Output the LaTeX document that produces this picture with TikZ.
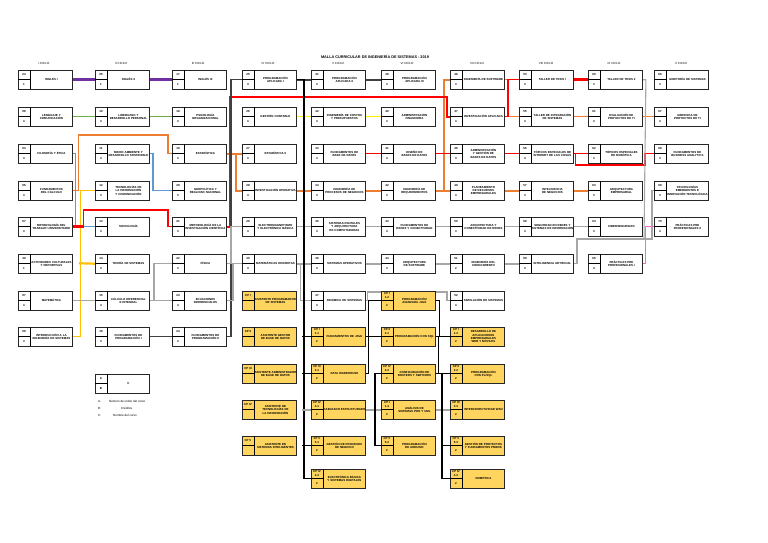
\documentclass[tikz,border=0pt]{standalone}
\usepackage{fontspec}
\setmainfont{Liberation Sans}
\usetikzlibrary{calc,backgrounds}
\hyphenpenalty=10000
\exhyphenpenalty=10000
\definecolor{cyel}{RGB}{255,212,95}
\definecolor{cpur}{RGB}{112,48,160}
\definecolor{cgrn}{RGB}{112,173,71}
\definecolor{cora}{RGB}{237,125,49}
\definecolor{cblu}{RGB}{91,155,213}
\definecolor{cgld}{RGB}{255,192,0}
\definecolor{cdgr}{RGB}{64,64,64}
\definecolor{cgry}{RGB}{166,166,166}
\definecolor{cpnk}{RGB}{255,102,204}
\tikzset{x=1pt,y=1pt,
 cbox/.style={draw=black!85,line width=0.9pt,minimum width=54pt,minimum height=18.5pt,inner sep=0,anchor=north west},
 tx/.style={font=\fontsize{2.9}{3.3}\selectfont\bfseries,inner sep=0,align=center},
 hd/.style={font=\fontsize{3}{3.5}\selectfont,inner sep=0},
 cn/.style={line width=1.1pt},
}
\newcommand\crs[7]{%
 \node[cbox,fill=#7] (#1) at (#2,-#3) {};
 \draw[line width=0.6pt] ($(#1.north west)+(12,0)$) -- ($(#1.south west)+(12,0)$);
 \draw[line width=0.6pt] (#1.west) -- ($(#1.west)+(12,0)$);
 \node[tx] at ($(#1.north west)+(6,-4.6)$) {#4};
 \node[tx] at ($(#1.south west)+(6,4.6)$) {#5};
 \node[tx,text width=42pt] at ($(#1.center)+(6,0)$) {#6};}
\begin{document}
\begin{tikzpicture}
\useasboundingbox (0,0) rectangle (768,-543);
\node[tx,font=\fontsize{3.8}{4}\selectfont\bfseries] (title) at (375,-57) {MALLA CURRICULAR DE INGENIERÍA DE SISTEMAS - 2019};
\foreach \x/\t in {44/I CICLO,121/II CICLO,198/III CICLO,268/IV CICLO,338/V CICLO,407/VI CICLO,477/VII CICLO,546/VIII CICLO,614/IX CICLO,681/X CICLO}
 \node[hd] at (\x,-63) {\t};
% column I
\crs{c1-1}{18}{70}{24}{1}{INGLÉS I}{white}
\crs{c1-2}{18}{107}{08}{3}{LENGUAJE Y COMUNICACIÓN}{white}
\crs{c1-3}{18}{144}{03}{3}{FILOSOFÍA Y ÉTICA}{white}
\crs{c1-4}{18}{181}{06}{3}{FUNDAMENTOS DEL CÁLCULO}{white}
\crs{c1-5}{18}{217}{07}{3}{METODOLOGÍA DEL TRABAJO UNIVERSITARIO}{white}
\crs{c1-6}{18}{254}{30}{1}{ACTIVIDADES CULTURALES Y DEPORTIVAS}{white}
\crs{c1-7}{18}{291}{07}{3}{MATEMÁTICA}{white}
\crs{c1-8}{18}{327}{09}{3}{INTRODUCCIÓN A LA INGENIERÍA DE SISTEMAS}{white}
% column II
\crs{c2-1}{95}{70}{25}{1}{INGLÉS II}{white}
\crs{c2-2}{95}{107}{10}{3}{LIDERAZGO Y DESARROLLO PERSONAL}{white}
\crs{c2-3}{95}{144}{11}{3}{MEDIO AMBIENTE Y DESARROLLO SOSTENIBLE}{white}
\crs{c2-4}{95}{181}{12}{3}{TECNOLOGÍAS DE LA INFORMACIÓN Y COMUNICACIÓN}{white}
\crs{c2-5}{95}{217}{13}{3}{SOCIOLOGÍA}{white}
\crs{c2-6}{95}{254}{14}{3}{TEORÍA DE SISTEMAS}{white}
\crs{c2-7}{95}{291}{15}{4}{CÁLCULO DIFERENCIAL E INTEGRAL}{white}
\crs{c2-8}{95}{327}{16}{3}{FUNDAMENTOS DE PROGRAMACIÓN I}{white}
\crs{leg}{95}{374}{A}{B}{C}{white}
\node[hd,anchor=west] (la) at (98,-401) {A:\hspace{8pt}Número de orden del curso};
\node[hd,anchor=west] (lb) at (98,-408) {B:\hspace{20pt}Créditos};
\node[hd,anchor=west] (lc) at (98,-415) {C:\hspace{12pt}Nombre del curso};
% column III
\crs{c3-1}{172}{70}{17}{1}{INGLÉS III}{white}
\crs{c3-2}{172}{107}{18}{3}{PSICOLOGÍA ORGANIZACIONAL}{white}
\crs{c3-3}{172}{144}{19}{3}{ESTADÍSTICA}{white}
\crs{c3-4}{172}{181}{20}{3}{GEOPOLÍTICA Y REALIDAD NACIONAL}{white}
\crs{c3-5}{172}{217}{21}{3}{METODOLOGÍA DE LA INVESTIGACIÓN CIENTÍFICA}{white}
\crs{c3-6}{172}{254}{22}{3}{FÍSICA}{white}
\crs{c3-7}{172}{291}{23}{4}{ECUACIONES DIFERENCIALES}{white}
\crs{c3-8}{172}{327}{24}{3}{FUNDAMENTOS DE PROGRAMACIÓN II}{white}
% column IV
\crs{c4-1}{242}{70}{25}{4}{PROGRAMACIÓN APLICADA I}{white}
\crs{c4-2}{242}{107}{26}{3}{GESTIÓN CONTABLE}{white}
\crs{c4-3}{242}{144}{27}{3}{ESTADÍSTICA II}{white}
\crs{c4-4}{242}{181}{28}{4}{INVESTIGACIÓN OPERATIVA}{white}
\crs{c4-5}{242}{217}{29}{4}{ELECTROMAGNETISMO Y ELECTRÓNICA BÁSICA}{white}
\crs{c4-6}{242}{254}{30}{4}{MATEMÁTICAS DISCRETAS}{white}
\crs{c4-7}{242}{291}{CP I}{}{ASISTENTE PROGRAMADOR DE SISTEMAS}{cyel}
\crs{c4-8}{242}{327}{CP II}{}{ASISTENTE GESTOR DE BASE DE DATOS}{cyel}
\crs{c4-9}{242}{364}{CP III}{}{ASISTENTE ADMINISTRADOR DE BASE DE DATOS}{cyel}
\crs{c4-10}{242}{400}{CP IV}{}{ASISTENTE DE TECNOLOGÍAS DE LA INFORMACIÓN}{cyel}
\crs{c4-11}{242}{436}{CP V}{}{ASISTENTE EN SISTEMAS INTELIGENTES}{cyel}
% column V
\crs{c5-1}{311}{70}{31}{3}{PROGRAMACIÓN APLICADA II}{white}
\crs{c5-2}{311}{107}{32}{3}{INGENIERÍA DE COSTOS Y PRESUPUESTOS}{white}
\crs{c5-3}{311}{144}{33}{3}{FUNDAMENTOS DE BASE DE DATOS}{white}
\crs{c5-4}{311}{181}{34}{3}{INGENIERÍA DE PROCESOS DE NEGOCIOS}{white}
\crs{c5-5}{311}{217}{35}{3}{SISTEMAS DIGITALES Y ARQUITECTURA DE COMPUTADORAS}{white}
\crs{c5-6}{311}{254}{36}{3}{SISTEMAS OPERATIVOS}{white}
\crs{c5-7}{311}{291}{37}{3}{DINÁMICA DE SISTEMAS}{white}
\crs{c5-8}{311}{327}{CP I\\1.1}{2}{FUNDAMENTOS DE JAVA}{cyel}
\crs{c5-9}{311}{364}{CP III\\3.1}{2}{DATA WAREHOUSE}{cyel}
\crs{c5-10}{311}{400}{CP IV\\4.1}{2}{CABLEADO ESTRUCTURADO}{cyel}
\crs{c5-11}{311}{436}{CP V\\5.1}{2}{GESTIÓN DE PROCESOS DE NEGOCIO}{cyel}
\crs{c5-12}{311}{469}{CP IV\\4.4}{2}{ELECTRÓNICA BÁSICA Y SISTEMAS DIGITALES}{cyel}
% column VI
\crs{c6-1}{381}{70}{38}{3}{PROGRAMACIÓN APLICADA III}{white}
\crs{c6-2}{381}{107}{40}{3}{ADMINISTRACIÓN FINANCIERA}{white}
\crs{c6-3}{381}{144}{41}{4}{DISEÑO DE BASES DE DATOS}{white}
\crs{c6-4}{381}{181}{42}{3}{INGENIERÍA DE REQUERIMIENTOS}{white}
\crs{c6-5}{381}{217}{43}{4}{FUNDAMENTOS DE REDES Y CONECTIVIDAD}{white}
\crs{c6-6}{381}{254}{44}{3}{ARQUITECTURA DE SOFTWARE}{white}
\crs{c6-7}{381}{291}{CP I\\1.2}{2}{PROGRAMACIÓN AVANZADA JAVA}{cyel}
\crs{c6-8}{381}{327}{CP II\\2.1}{2}{PROGRAMACIÓN CON SQL}{cyel}
\crs{c6-9}{381}{364}{CP IV\\4.2}{2}{CONFIGURACIÓN DE ROUTERS Y SWITCHES}{cyel}
\crs{c6-10}{381}{400}{CP I\\1.4}{2}{ANÁLISIS DE SISTEMAS POO Y UML}{cyel}
\crs{c6-11}{381}{436}{CP V\\5.2}{2}{PROGRAMACIÓN DE ARDUINO}{cyel}
% column VII
\crs{c7-1}{450}{70}{46}{3}{INGENIERÍA DE SOFTWARE}{white}
\crs{c7-2}{450}{107}{47}{3}{INVESTIGACIÓN APLICADA}{white}
\crs{c7-3}{450}{144}{48}{3}{ADMINISTRACIÓN Y GESTIÓN DE BASES DE DATOS}{white}
\crs{c7-4}{450}{181}{49}{3}{PLANEAMIENTO DE RECURSOS EMPRESARIALES}{white}
\crs{c7-5}{450}{217}{50}{3}{ARQUITECTURA Y CONECTIVIDAD DE REDES}{white}
\crs{c7-6}{450}{254}{51}{2}{INGENIERÍA DEL CONOCIMIENTO}{white}
\crs{c7-7}{450}{291}{52}{3}{SIMULACIÓN DE SISTEMAS}{white}
\crs{c7-8}{450}{327}{CP I\\1.3}{2}{DESARROLLO DE APLICACIONES EMPRESARIALES WEB Y MÓVILES}{cyel}
\crs{c7-9}{450}{364}{CP II\\2.2}{2}{PROGRAMACIÓN CON PL/SQL}{cyel}
\crs{c7-10}{450}{400}{CP III\\3.3}{2}{INTERCONECTIVIDAD WAN}{cyel}
\crs{c7-11}{450}{436}{CP V\\5.3}{2}{GESTIÓN DE PROYECTOS Y FUNDAMENTOS PMBOK}{cyel}
\crs{c7-12}{450}{469}{CP IV\\4.3}{2}{DOMÓTICA}{cyel}
% column VIII
\crs{c8-1}{519}{70}{53}{3}{TALLER DE TESIS I}{white}
\crs{c8-2}{519}{107}{55}{3}{TALLER DE INTEGRACIÓN DE SISTEMAS}{white}
\crs{c8-3}{519}{144}{56}{4}{TÓPICOS ESPECIALES DE INTERNET DE LAS COSAS}{white}
\crs{c8-4}{519}{181}{57}{3}{INTELIGENCIA DE NEGOCIOS}{white}
\crs{c8-5}{519}{217}{58}{3}{SEGURIDAD EN REDES Y SISTEMAS DE INFORMACIÓN}{white}
\crs{c8-6}{519}{254}{59}{3}{INTELIGENCIA ARTIFICIAL}{white}
% column IX
\crs{c9-1}{588}{70}{60}{3}{TALLER DE TESIS 2}{white}
\crs{c9-2}{588}{107}{61}{3}{EVALUACIÓN DE PROYECTOS DE TI}{white}
\crs{c9-3}{588}{144}{62}{3}{TÓPICOS ESPECIALES DE ROBÓTICA}{white}
\crs{c9-4}{588}{181}{63}{3}{ARQUITECTURA EMPRESARIAL}{white}
\crs{c9-5}{588}{217}{64}{3}{CIBERSEGURIDAD}{white}
\crs{c9-6}{588}{254}{65}{4}{PRÁCTICAS PRE PROFESIONALES I}{white}
% column X
\crs{c10-1}{654}{70}{66}{3}{AUDITORÍA DE SISTEMAS}{white}
\crs{c10-2}{654}{107}{67}{4}{GERENCIA DE PROYECTOS DE TI}{white}
\crs{c10-3}{654}{144}{68}{3}{FUNDAMENTOS DE BUSINESS ANALYTICS}{white}
\crs{c10-4}{654}{181}{69}{3}{TECNOLOGÍAS EMERGENTES E INNOVACIÓN TECNOLÓGICA}{white}
\crs{c10-5}{654}{217}{70}{4}{PRÁCTICAS PRE PROFESIONALES II}{white}
% connectors
\begin{pgfonlayer}{background}
\draw[cpur,line width=2.5pt] (c1-1.east) -- (c2-1.west) (c2-1.east) -- (c3-1.west);
\draw[cgrn,cn] (c1-2.east) -- (c2-2.west) (c2-2.east) -- (c3-2.west);
\draw[cora,cn] (c1-4.east) -- ++(6,0) |- (168,-135) |- (c3-3.west);
\draw[cora,line width=1.6pt] (c3-3.east) -- (c4-3.west) (236,-153.25) |- (c4-4.west);
\draw[cora,line width=2pt] (c4-4.east) -- (c5-4.west) (c5-4.east) -- (c6-4.west) (c6-4.east) -- (c7-4.west) (c7-4.east) -- (c8-4.west) (c8-4.east) -- (c9-4.west);
\draw[cora,line width=1.6pt] (c6-4.east) -- ++(8,0) |- (c7-1.west);
\draw[cora,cn] (c7-1.east) -- ++(4,0) |- (c8-2.west) (c8-2.east) -- (c9-2.west) (c9-2.east) -- (c10-2.west);
\draw[cblu,cn] (c1-3.east) -- ++(3,0) |- (c2-5.west);
\draw[cblu,line width=1.5pt] (c2-3.east) -- ++(3,0) |- (c3-4.west);
\draw[cgld,cn] (c1-8.east) -- ++(8,0) |- (c2-4.west);
\draw[cgld,line width=2.2pt] (79,-263.25) -- (c2-6.west);
\draw[red,line width=2.5pt] (c1-5.east) -- ++(11,0);
\draw[red,cn] (c1-5.east) -- ++(11,0) |- (168,-210) |- (c3-5.west);
\draw[red,line width=2.2pt] (c3-5.east) -- ++(3,0) |- (447,-97) |- (c7-2.west);
\draw[red,line width=1.5pt] (c7-2.east) -- ++(3,0) |- (c8-1.west);
\draw[red,line width=2.5pt] (c8-1.east) -- (c9-1.west);
\draw[red,cn] (c5-3.east) -- (c6-3.west) (c6-3.east) -- (c7-3.west) (c7-3.east) -- (c8-3.west) (c8-3.east) -- (c9-3.west);
\draw[red,cn] (c8-3.east) -- ++(2,0) |- (645,-165) |- (c10-3.west);
\draw[yellow,cn] (c4-2.east) -- (c5-2.west) (c5-2.east) -- (c6-2.west);
\draw[cdgr,line width=2pt] (c4-1.east) -- (c5-1.west) (c5-1.east) -- (c6-1.west);
\draw[cdgr,line width=1.5pt] (c2-8.east) -- (c3-8.west) (c3-8.east) -- ++(4,0) |- (c4-1.west);
\draw[cgry,line width=1.5pt] (c1-7.east) -- (c2-7.west) (c2-7.east) -- (c3-7.west) (c2-7.east) -- ++(4,0) |- (c3-6.west);
\draw[cgry,line width=1.5pt] (c3-6.east) -- ++(4,0) |- (c4-5.west) (c3-7.east) -- ++(6,0) |- (c4-6.west);
\draw[cgry,cn] (c4-5.east) -- (c5-5.west) (c5-5.east) -- (c6-5.west) (c6-5.east) -- (c7-5.west) (c7-5.east) -- (c8-5.west) (c8-5.east) -- (c9-5.west);
\draw[cgry,line width=2.2pt] (c4-6.east) -- (c5-6.west) (c5-6.east) -- (c6-6.west) (c6-6.east) -- (c7-6.west) (c7-6.east) -- (c8-6.west);
\draw[cgry,cn] (c4-6.east) -- ++(4,0) |- (c5-7.west);
\draw[cgry,cn] (c5-7.east) -- ++(2,0) |- (447,-292) |- (c7-7.west);
\draw[cgry,cn] (c9-1.east) -- ++(3,0) -- (644,-239);
\draw[cgry,line width=1.5pt] (c8-6.east) -- ++(3,0) |- (652,-239) |- (c10-4.west);
\draw[cpnk,cn] (c9-6.east) -- ++(3,0) |- (c10-5.west);
\draw[black,line width=1.3pt] (c4-1.east) -- ++(7,0) |- (c5-12.west);
\foreach \n in {8,9,11} \draw[black,line width=1.3pt] (302,0 |- c5-\n.west) -- (c5-\n.west);
\draw[cgry,line width=2.2pt] (302,0 |- c5-10.west) -- (c5-10.west) (c5-10.east) -- (c6-10.west) (c6-10.east) -- (c7-10.west);
\draw[black,line width=1.1pt] (c5-8.east) -- ++(3,0) |- (c6-7.west);
\draw[black,line width=1.1pt] (c5-9.east) -- ++(3,0) |- (c6-8.west);
\draw[black,line width=1.1pt] (c6-7.east) -- ++(4,0) |- (c7-8.west);
\draw[black,line width=1.1pt] (c6-8.east) -- ++(3,0) |- (c7-9.west);
\draw[black,line width=1.3pt] (c6-9.west) -- ++(-6,0) |- (c6-11.west);
\draw[black,line width=1.3pt] (c6-9.east) -- ++(6,0) |- (c7-12.west);
\draw[black,line width=1.3pt] (443,0 |- c7-11.west) -- (c7-11.west);
\end{pgfonlayer}
\end{tikzpicture}
\end{document}
